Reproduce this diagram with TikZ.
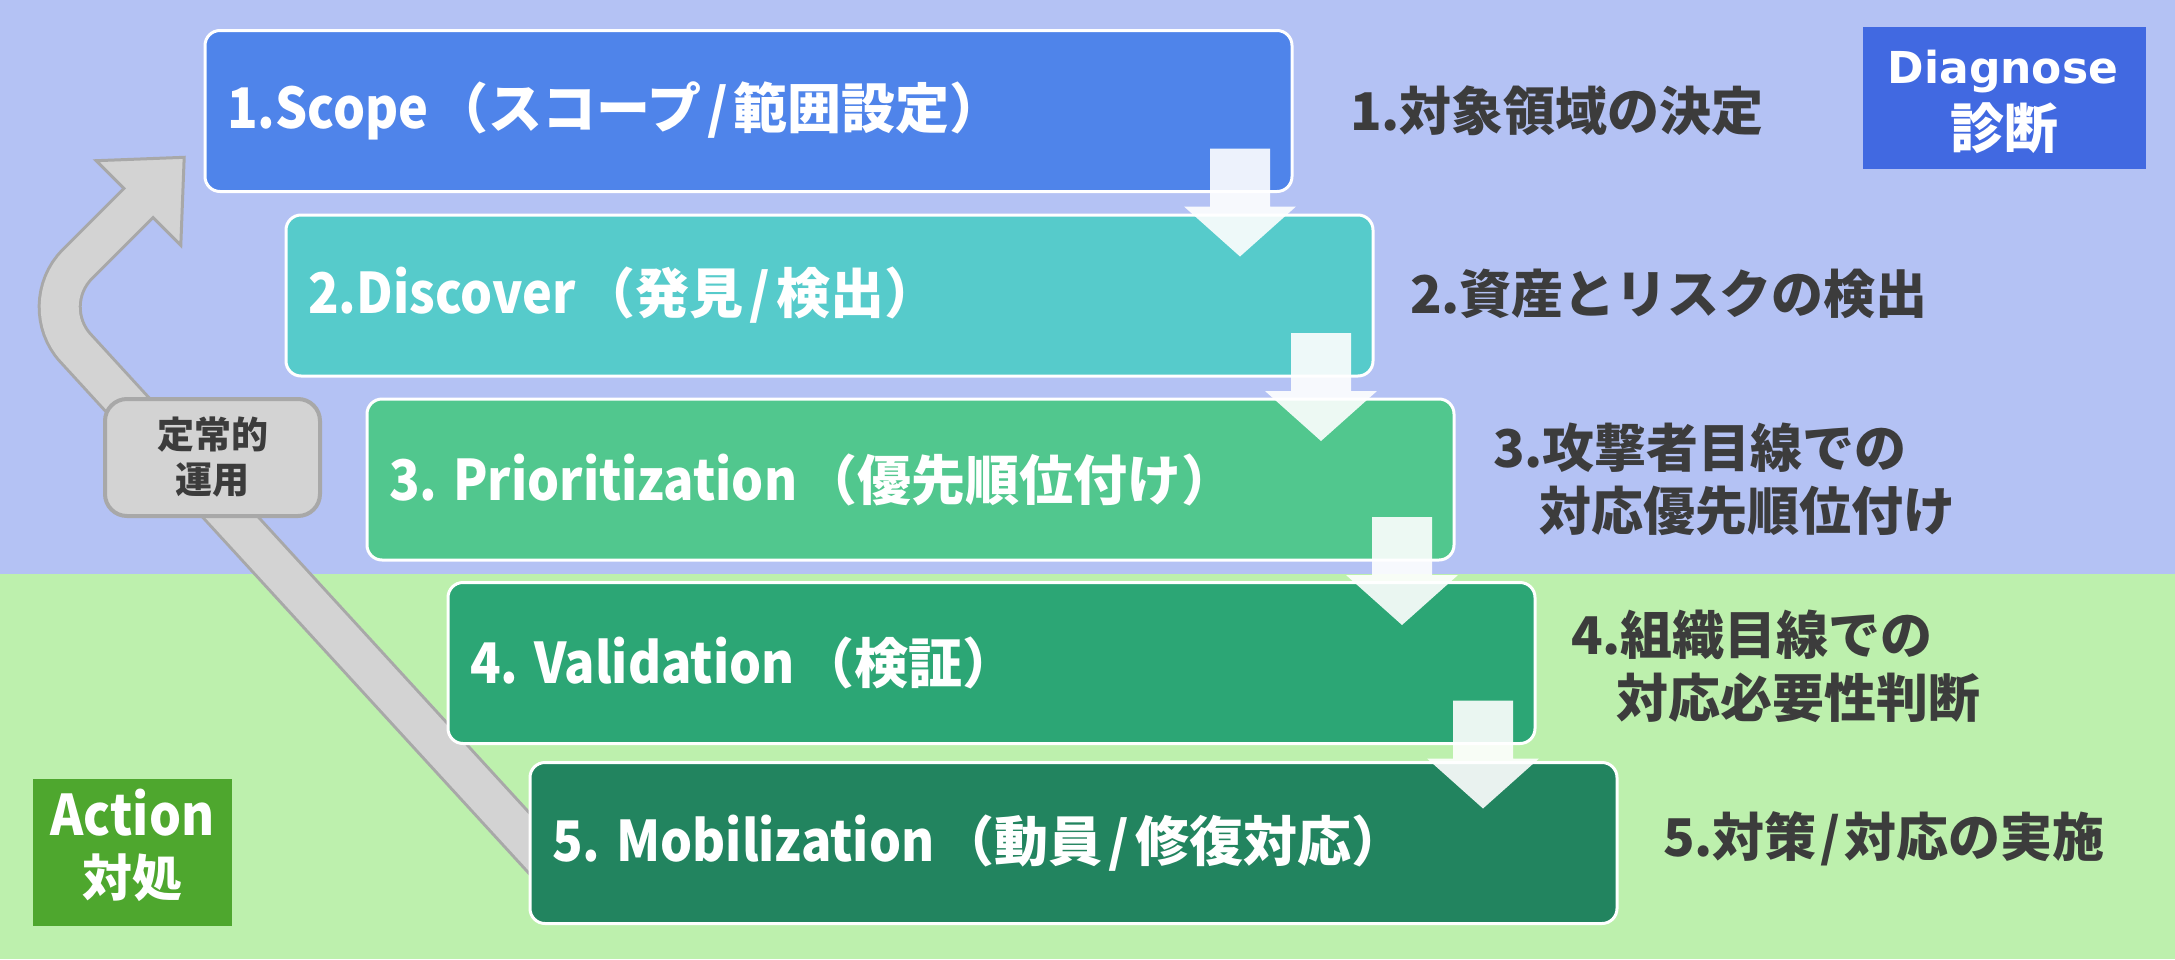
\documentclass[tikz,border=0pt]{standalone}
\usepackage{fontspec}
\newfontfamily\jp{Noto Sans CJK JP}
\newfontfamily\jplat{Noto Sans CJK JP}[FakeStretch=0.9]
\newfontfamily\dvs{DejaVu Sans}
\usetikzlibrary{calc}
\definecolor{bgtop}{HTML}{B4C2F4}
\definecolor{bgbot}{HTML}{BDF0AD}
\definecolor{s1}{HTML}{4F84EA}
\definecolor{s2}{HTML}{56CBCB}
\definecolor{s3}{HTML}{51C78E}
\definecolor{s4}{HTML}{2CA675}
\definecolor{s5}{HTML}{22845F}
\definecolor{diagc}{HTML}{4169E1}
\definecolor{actc}{HTML}{4EA72E}
\definecolor{loopfillc}{HTML}{D3D3D3}
\definecolor{loopedgec}{HTML}{A8A8A8}
\definecolor{labeltext}{HTML}{3C3C3C}
\newcommand\latpart[1]{{\jplat\fontsize{28}{33}\selectfont #1}\hspace{3pt}}
\newcommand\wslash{\hspace{3pt}/\hspace{3pt}}
\begin{document}
\begin{tikzpicture}[x=0.5pt,y=-0.5pt,
  stepbox/.style={rectangle, rounded corners=7.5pt, draw=white, line width=1.5pt,
    minimum width=543.5pt, minimum height=80.5pt, text width=521.5pt,
    inner xsep=11pt, inner ysep=0pt, outer sep=0pt, align=left, text=white,
    font=\jp\bfseries\fontsize{27}{33}\selectfont},
  lbl/.style={anchor=west, inner sep=0pt, outer sep=0pt, align=left, text=labeltext,
    font=\jp\bfseries\fontsize{26}{31.5}\selectfont},
  flowarrow/.style={fill=white, fill opacity=0.9},
  tagtext/.style={anchor=base, inner sep=0pt, outer sep=0pt, text=white},
  loopedge/.style={draw=loopedgec, line width=22pt, rounded corners=28.9pt},
  loopfill/.style={draw=loopfillc, line width=19pt, rounded corners=28.9pt},
]
\useasboundingbox (0,0) rectangle (2175,959);
\fill[bgtop] (0,0) rectangle (2175,574);
\fill[bgbot] (0,574) rectangle (2175,959);

% recurring loop band
\coordinate (loopstart) at (574,892);
\coordinate (loopturn) at (36.3,305.2);
\coordinate (loopmouth) at (138.5,203);
\coordinate (loopinner) at (140.6,200.9);
\coordinate (looptip) at (184.2,157.3);
\coordinate (loopbarbA) at (96.2,160.7);
\coordinate (loopbarbB) at (180.8,245.3);
\draw[loopedge] (loopstart) -- (loopturn) -- (loopmouth);
\filldraw[fill=loopfillc, draw=loopedgec, line width=1.5pt, line join=miter]
  (loopbarbA) -- (looptip) -- (loopbarbB) -- cycle;
\draw[loopfill] (loopstart) -- (loopturn) -- (loopinner);

% steps
\node[stepbox, fill=s1] (b1) at (748.5,111) {\latpart{1.Scope}（スコープ\wslash 範囲設定）};
\node[stepbox, fill=s2] (b2) at (829.5,295.5) {\latpart{2.Discover}（発見\wslash 検出）};
\node[stepbox, fill=s3] (b3) at (910.5,479.5) {\latpart{3.\hspace{8pt}Prioritization}（優先順位付け）};
\node[stepbox, fill=s4] (b4) at (991.5,663) {\latpart{4.\hspace{8pt}Validation}（検証）};
\node[stepbox, fill=s5] (b5) at (1073.5,843) {\latpart{5.\hspace{8pt}Mobilization}（動員\wslash 修復対応）};

% down arrows
\foreach \i in {1,2,3,4} {
  \fill[flowarrow] ($(b\i.south east)+(-82,-43)$) -- ($(b\i.south east)+(-22,-43)$)
    -- ($(b\i.south east)+(-22,15)$) -- ($(b\i.south east)+(4,15)$)
    -- ($(b\i.south east)+(-52,65)$) -- ($(b\i.south east)+(-108,15)$)
    -- ($(b\i.south east)+(-82,15)$) -- cycle;
}

% routine box
\node[fill=loopfillc, draw=loopedgec, line width=2pt, rounded corners=11pt,
  minimum width=107.5pt, minimum height=58.5pt, inner sep=0pt, align=center,
  text=labeltext, font=\jp\bfseries\fontsize{18.5}{22.5}\selectfont]
  (routine) at (212.5,457.5) {定常的\\運用};

% labels
\node[lbl] (l1) at (1350,111) {1.対象領域の決定};
\node[lbl] (l2) at (1410,294) {2.資産とリスクの検出};
\node[lbl] (l3) at (1493,479.5) {3.攻撃者目線での\\\hspace*{23pt}対応優先順位付け};
\node[lbl] (l4) at (1571,666) {4.組織目線での\\\hspace*{22.5pt}対応必要性判断};
\node[lbl] (l5) at (1663,839) {5.対策\hspace{2pt}/\hspace{2pt}対応の実施};

% Diagnose tag
\node[fill=diagc, minimum width=141.5pt, minimum height=71pt, inner sep=0pt, outer sep=0pt]
  (diag) at (2004.5,98) {};
\node[tagtext, font=\dvs\bfseries\fontsize{22}{24}\selectfont] (diagen) at (2003,83) {Diagnose};
\node[tagtext, font=\jp\bfseries\fontsize{27}{30}\selectfont] (diagja) at (2004.5,148) {診断};

% Action tag
\node[fill=actc, minimum width=99.5pt, minimum height=73.5pt, inner sep=0pt, outer sep=0pt]
  (act) at (132.5,852.5) {};
\node[tagtext, font=\jplat\bfseries\fontsize{28}{30}\selectfont] (acten) at (132.5,835) {Action};
\node[tagtext, font=\jp\bfseries\fontsize{25}{30}\selectfont] (actja) at (132.5,896.5) {対処};
\end{tikzpicture}
\end{document}
